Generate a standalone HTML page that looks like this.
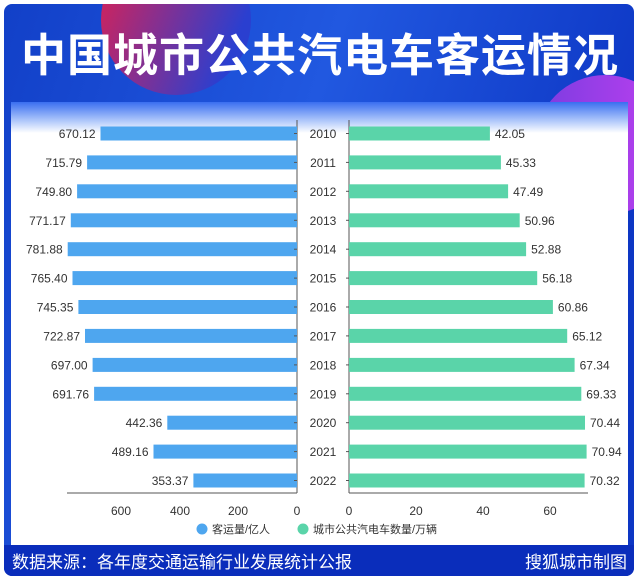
<!DOCTYPE html>
<html><head><meta charset="utf-8"><style>
html,body{margin:0;padding:0;background:#fff;width:640px;height:580px;overflow:hidden}
svg{display:block}
text{font-family:"Liberation Sans","Noto Sans CJK SC",sans-serif}
</style></head><body>
<svg width="640" height="580" viewBox="0 0 640 580" xmlns="http://www.w3.org/2000/svg">
<defs>
<linearGradient id="bg" x1="0" y1="0" x2="1" y2="0.3">
<stop offset="0" stop-color="#1240c8"/><stop offset="0.5" stop-color="#2158e0"/><stop offset="1" stop-color="#0d36c4"/></linearGradient>
<linearGradient id="red" x1="0" y1="0" x2="1" y2="0.4">
<stop offset="0" stop-color="#e2204f"/><stop offset="1" stop-color="#2a3fd0"/></linearGradient>
<linearGradient id="pur" x1="0" y1="0" x2="1" y2="0">
<stop offset="0" stop-color="#7a3ce0"/><stop offset="1" stop-color="#c040f0"/></linearGradient>
<linearGradient id="wp" x1="0" y1="0" x2="0" y2="1">
<stop offset="0" stop-color="#3a6ef0"/><stop offset="0.04" stop-color="#a9c3fa"/><stop offset="0.07" stop-color="#fff"/><stop offset="1" stop-color="#fff"/></linearGradient>
<clipPath id="cc"><rect x="4" y="4" width="630" height="572" rx="8"/></clipPath>
</defs>
<g clip-path="url(#cc)">
<rect x="4" y="4" width="630" height="572" fill="url(#bg)"/>
<circle cx="176" cy="20" r="75" fill="url(#red)"/>
<circle cx="605" cy="145" r="70" fill="url(#pur)"/>
<rect x="4" y="545" width="630" height="31" fill="#0a2dbb"/>
</g>
<rect x="11" y="102" width="617" height="443" fill="url(#wp)"/>
<text x="320" y="71" text-anchor="middle" font-size="45" font-weight="bold" fill="#fff" letter-spacing="1">中国城市公共汽电车客运情况</text>
<text x="12" y="568" font-size="17" fill="#fff">数据来源：各年度交通运输行业发展统计公报</text>
<text x="627" y="568" text-anchor="end" font-size="17" fill="#fff">搜狐城市制图</text>
<g stroke="#555">
<line x1="297" y1="120" x2="297" y2="493"/>
<line x1="349" y1="120" x2="349" y2="493"/>
<line x1="67" y1="493" x2="297" y2="493"/>
<line x1="349" y1="493" x2="588" y2="493"/>
</g>
<g fill="#333" font-size="12" text-anchor="middle">
<text x="121" y="515">600</text><text x="180" y="515">400</text><text x="238" y="515">200</text><text x="297" y="515">0</text>
<text x="349" y="515">0</text><text x="416" y="515">20</text><text x="483" y="515">40</text><text x="550" y="515">60</text>
</g>
<circle cx="202" cy="529" r="5.5" fill="#4ea6ef"/><text x="212" y="533" font-size="11" fill="#333">客运量/亿人</text>
<circle cx="303" cy="529" r="5.5" fill="#5ad4a9"/><text x="313" y="533" font-size="11" fill="#333">城市公共汽电车数量/万辆</text>

<g fill="#4ea6ef">
<rect x="100.5" y="126.5" width="196.5" height="14"/>
<rect x="87.1" y="155.4" width="209.9" height="14"/>
<rect x="77.1" y="184.3" width="219.9" height="14"/>
<rect x="70.8" y="213.3" width="226.2" height="14"/>
<rect x="67.7" y="242.2" width="229.3" height="14"/>
<rect x="72.5" y="271.1" width="224.5" height="14"/>
<rect x="78.4" y="300" width="218.6" height="14"/>
<rect x="85" y="328.9" width="212" height="14"/>
<rect x="92.6" y="357.9" width="204.4" height="14"/>
<rect x="94.1" y="386.8" width="202.9" height="14"/>
<rect x="167.3" y="415.7" width="129.7" height="14"/>
<rect x="153.5" y="444.6" width="143.5" height="14"/>
<rect x="193.4" y="473.5" width="103.6" height="14"/>
</g>
<g fill="#5ad4a9">
<rect x="349" y="126.5" width="140.9" height="14"/>
<rect x="349" y="155.4" width="151.9" height="14"/>
<rect x="349" y="184.3" width="159.1" height="14"/>
<rect x="349" y="213.3" width="170.7" height="14"/>
<rect x="349" y="242.2" width="177.1" height="14"/>
<rect x="349" y="271.1" width="188.2" height="14"/>
<rect x="349" y="300" width="203.9" height="14"/>
<rect x="349" y="328.9" width="218.2" height="14"/>
<rect x="349" y="357.9" width="225.6" height="14"/>
<rect x="349" y="386.8" width="232.3" height="14"/>
<rect x="349" y="415.7" width="236" height="14"/>
<rect x="349" y="444.6" width="237.6" height="14"/>
<rect x="349" y="473.5" width="235.6" height="14"/>
</g>
<g stroke="#555">
<line x1="294" y1="133.5" x2="297" y2="133.5"/><line x1="346" y1="133.5" x2="349" y2="133.5"/>
<line x1="294" y1="162.4" x2="297" y2="162.4"/><line x1="346" y1="162.4" x2="349" y2="162.4"/>
<line x1="294" y1="191.3" x2="297" y2="191.3"/><line x1="346" y1="191.3" x2="349" y2="191.3"/>
<line x1="294" y1="220.3" x2="297" y2="220.3"/><line x1="346" y1="220.3" x2="349" y2="220.3"/>
<line x1="294" y1="249.2" x2="297" y2="249.2"/><line x1="346" y1="249.2" x2="349" y2="249.2"/>
<line x1="294" y1="278.1" x2="297" y2="278.1"/><line x1="346" y1="278.1" x2="349" y2="278.1"/>
<line x1="294" y1="307" x2="297" y2="307"/><line x1="346" y1="307" x2="349" y2="307"/>
<line x1="294" y1="335.9" x2="297" y2="335.9"/><line x1="346" y1="335.9" x2="349" y2="335.9"/>
<line x1="294" y1="364.9" x2="297" y2="364.9"/><line x1="346" y1="364.9" x2="349" y2="364.9"/>
<line x1="294" y1="393.8" x2="297" y2="393.8"/><line x1="346" y1="393.8" x2="349" y2="393.8"/>
<line x1="294" y1="422.7" x2="297" y2="422.7"/><line x1="346" y1="422.7" x2="349" y2="422.7"/>
<line x1="294" y1="451.6" x2="297" y2="451.6"/><line x1="346" y1="451.6" x2="349" y2="451.6"/>
<line x1="294" y1="480.5" x2="297" y2="480.5"/><line x1="346" y1="480.5" x2="349" y2="480.5"/>
</g>
<g fill="#333" font-size="12" text-anchor="middle">
<text x="323" y="138">2010</text><text x="323" y="166.9">2011</text><text x="323" y="195.8">2012</text>
<text x="323" y="224.8">2013</text><text x="323" y="253.7">2014</text><text x="323" y="282.6">2015</text>
<text x="323" y="311.5">2016</text><text x="323" y="340.4">2017</text><text x="323" y="369.4">2018</text>
<text x="323" y="398.3">2019</text><text x="323" y="427.2">2020</text><text x="323" y="456.1">2021</text>
<text x="323" y="485">2022</text>
</g>
<g fill="#333" font-size="12" text-anchor="end">
<text x="95.5" y="138">670.12</text><text x="82.1" y="166.9">715.79</text><text x="72.1" y="195.8">749.80</text>
<text x="65.8" y="224.8">771.17</text><text x="62.7" y="253.7">781.88</text><text x="67.5" y="282.6">765.40</text>
<text x="73.4" y="311.5">745.35</text><text x="80" y="340.4">722.87</text><text x="87.6" y="369.4">697.00</text>
<text x="89.1" y="398.3">691.76</text><text x="162.3" y="427.2">442.36</text><text x="148.5" y="456.1">489.16</text>
<text x="188.4" y="485">353.37</text>
</g>
<g fill="#333" font-size="12">
<text x="494.9" y="138">42.05</text><text x="505.9" y="166.9">45.33</text><text x="513.1" y="195.8">47.49</text>
<text x="524.7" y="224.8">50.96</text><text x="531.1" y="253.7">52.88</text><text x="542.2" y="282.6">56.18</text>
<text x="557.9" y="311.5">60.86</text><text x="572.2" y="340.4">65.12</text><text x="579.6" y="369.4">67.34</text>
<text x="586.3" y="398.3">69.33</text><text x="590" y="427.2">70.44</text><text x="591.6" y="456.1">70.94</text>
<text x="589.6" y="485">70.32</text>
</g>
</svg>
</body></html>
